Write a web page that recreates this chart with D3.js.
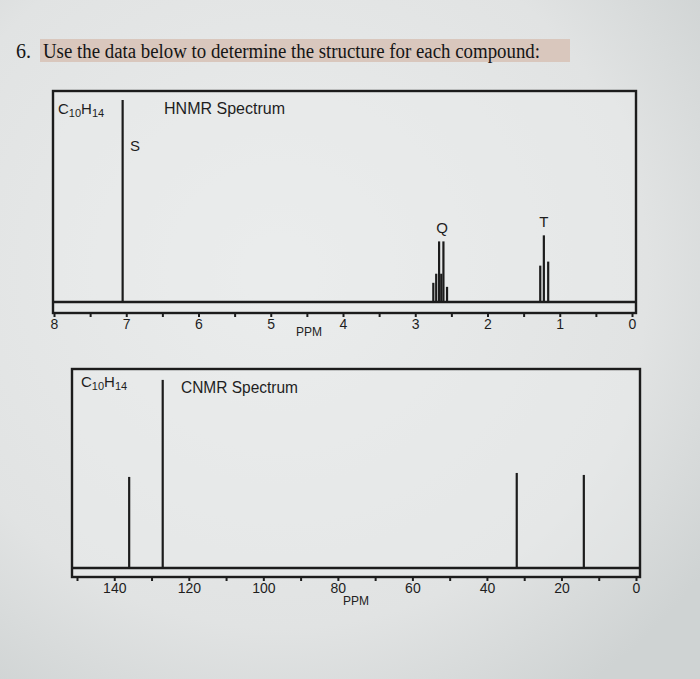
<!DOCTYPE html>
<html>
<head>
<meta charset="utf-8">
<script src="https://cdn.jsdelivr.net/npm/d3@7"></script>
<style>
	body { margin: 0; background: #e3e5e5; }
	svg { display: block; }
	.tick text { font-family: "Liberation Sans", Arial, sans-serif; font-size: 14px; fill: #1e1e1e; }
	.tick line { stroke: #1c1c1c; stroke-width: 2; }
</style>
</head>
<body>
<div class="wrapper"></div>
<script>

// HNMR data (ppm, relative height)
var hPeakPpm = [7.05, 2.75, 2.71, 2.67, 2.64, 2.61, 2.56, 1.27, 1.22, 1.16];
var hPeakInt = [100, 9.5, 14, 30, 14, 30, 7.5, 18, 33, 20];
var hMajor = [8, 7, 6, 5, 4, 3, 2, 1, 0];
var hMinor = [7.5, 6.5, 5.5, 4.5, 3.5, 2.5, 1.5, 0.5];
var hLabelText = ["S", "Q", "T"];
var hLabelPpm = [6.88, 2.63, 1.22];

// CNMR data
var cPeakPpm = [136, 127, 32, 14];
var cPeakInt = [46, 95, 48, 47];
var cMajor = [140, 120, 100, 80, 60, 40, 20, 0];
var cMinor = [150, 130, 110, 90, 70, 50, 30, 10];

var W = 700, H = 679,
	INK = "#1c1c1c",
	SANS = "'Liberation Sans', Arial, sans-serif";

var svg = d3.select(".wrapper")
	.append("svg")
		.attr("width", W)
		.attr("height", H);

// photo-ish background
var grad = svg.append("defs").append("radialGradient")
	.attr("id", "bg")
	.attr("cx", "40%").attr("cy", "40%").attr("r", "75%");
grad.append("stop").attr("offset", "0%").attr("stop-color", "#ebeded");
grad.append("stop").attr("offset", "70%").attr("stop-color", "#e1e3e3");
grad.append("stop").attr("offset", "100%").attr("stop-color", "#cfd3d3");

svg.append("rect")
	.attr("width", W).attr("height", H)
	.attr("fill", "url(#bg)");

// heading
svg.append("rect")
	.attr("x", 40).attr("y", 39)
	.attr("width", 530).attr("height", 23)
	.attr("fill", "#d9c7bd");

svg.append("text")
	.attr("x", 16).attr("y", 58)
	.attr("font-family", "'Liberation Serif', 'Times New Roman', serif")
	.attr("font-size", 20)
	.attr("fill", "#151515")
	.text("6.");

svg.append("text")
	.attr("x", 43).attr("y", 58)
	.attr("font-family", "'Liberation Serif', 'Times New Roman', serif")
	.attr("font-size", 20)
	.attr("fill", "#151515")
	.attr("textLength", 497)
	.attr("lengthAdjust", "spacingAndGlyphs")
	.text("Use the data below to determine the structure for each compound:");

// draws one spectrum panel
function panel(opt) {
	var g = svg.append("g");

	var x = d3.scaleLinear().domain(opt.domain).range(opt.range);
	var y = d3.scaleLinear().domain([0, 100]).range([opt.base, opt.peakTop]);

	// frame, bottom edge is the axis line
	g.append("rect")
		.attr("x", opt.left).attr("y", opt.top)
		.attr("width", opt.right - opt.left)
		.attr("height", opt.axisY - opt.top)
		.attr("fill", "#e9ebeb")
		.attr("fill-opacity", 0.5)
		.attr("stroke", INK)
		.attr("stroke-width", 2.4);

	// baseline of the spectrum
	g.append("line")
		.attr("x1", opt.left).attr("x2", opt.right)
		.attr("y1", opt.base).attr("y2", opt.base)
		.attr("stroke", INK).attr("stroke-width", 2.4);

	// peaks
	g.selectAll("line.peak")
		.data(opt.ppm)
		.enter()
		.append("line")
			.attr("class", "peak")
			.attr("x1", function(d) {return x(d);})
			.attr("x2", function(d) {return x(d);})
			.attr("y1", opt.base)
			.attr("y2", function(d, i) {return y(opt.inten[i]);})
			.attr("stroke", INK)
			.attr("stroke-width", 2.2);

	// major ticks with labels
	g.append("g")
		.attr("transform", "translate(0," + opt.axisY + ")")
		.call(d3.axisBottom(x)
			.tickValues(opt.major)
			.tickFormat(d3.format("d"))
			.tickSize(4)
			.tickPadding(2)
			.tickSizeOuter(0))
		.call(function(a) {a.select(".domain").remove();});

	// minor ticks
	g.append("g")
		.attr("transform", "translate(0," + opt.axisY + ")")
		.call(d3.axisBottom(x)
			.tickValues(opt.minor)
			.tickFormat("")
			.tickSize(4)
			.tickSizeOuter(0))
		.call(function(a) {a.select(".domain").remove();});

	// formula label C10H14 with subscripts
	var f = g.append("text")
		.attr("x", opt.formulaX).attr("y", opt.formulaY)
		.attr("font-family", SANS)
		.attr("font-size", 15)
		.attr("fill", "#1e1e1e");
	f.append("tspan").text("C");
	f.append("tspan").attr("font-size", 11).attr("dy", 3).text("10");
	f.append("tspan").attr("dy", -3).text("H");
	f.append("tspan").attr("font-size", 11).attr("dy", 3).text("14");

	g.append("text")
		.attr("x", opt.titleX).attr("y", opt.titleY)
		.attr("font-family", SANS)
		.attr("font-size", 16)
		.attr("fill", "#1e1e1e")
		.attr("textLength", opt.titleLen)
		.attr("lengthAdjust", "spacingAndGlyphs")
		.text(opt.title);

	g.append("text")
		.attr("x", opt.ppmX).attr("y", opt.ppmY)
		.attr("font-family", SANS)
		.attr("font-size", 12)
		.attr("fill", "#222")
		.text("PPM");

	return {g: g, x: x, y: y};
}

var hnmr = panel({
	domain: [8, 0], range: [54, 632],
	left: 53, right: 636, top: 91, axisY: 313,
	base: 302, peakTop: 100,
	ppm: hPeakPpm, inten: hPeakInt,
	major: hMajor, minor: hMinor,
	formulaX: 58, formulaY: 114,
	title: "HNMR Spectrum", titleX: 164, titleY: 114, titleLen: 121,
	ppmX: 296, ppmY: 336
});

// multiplicity letters
hnmr.g.selectAll("text.mult")
	.data(hLabelText)
	.enter()
	.append("text")
		.attr("class", "mult")
		.attr("x", function(d, i) {return hnmr.x(hLabelPpm[i]);})
		.attr("y", function(d, i) {
			if (i === 0) return 151;
			// sit just above the tallest line of the multiplet
			var top = d3.min(hPeakPpm.map(function(p, j) {
				return Math.abs(p - hLabelPpm[i]) < 0.2 ? hnmr.y(hPeakInt[j]) : 999;
			}));
			return top - 8;
		})
		.attr("text-anchor", "middle")
		.attr("font-family", SANS)
		.attr("font-size", 15)
		.attr("fill", "#1e1e1e")
		.text(function(d) {return d;});

var cnmr = panel({
	domain: [150, 0], range: [77, 636],
	left: 72, right: 640, top: 369, axisY: 577,
	base: 568, peakTop: 370,
	ppm: cPeakPpm, inten: cPeakInt,
	major: cMajor, minor: cMinor,
	formulaX: 81, formulaY: 387,
	title: "CNMR Spectrum", titleX: 181, titleY: 393, titleLen: 117,
	ppmX: 343, ppmY: 605
});

</script>
</body>
</html>
